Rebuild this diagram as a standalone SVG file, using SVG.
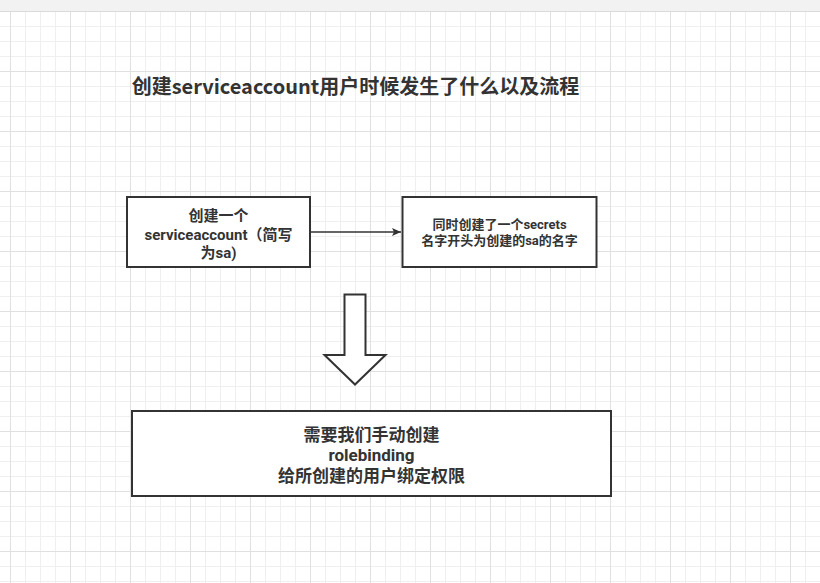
<svg xmlns="http://www.w3.org/2000/svg" width="820" height="583" viewBox="0 0 820 583">
<style>
.t{font-family:Roboto,"Noto Sans CJK SC",sans-serif;fill:#333333;font-weight:bold;text-anchor:middle}
.title{font-family:"Noto Sans CJK SC","Noto Sans",sans-serif}
.box{fill:#ffffff;stroke:#333333;stroke-width:2}
</style>
<defs>
<pattern id="grid" patternUnits="userSpaceOnUse" x="10" y="11" width="60" height="60">
<path d="M15.5 0V60M30.5 0V60M45.5 0V60M0 15.5H60M0 30.5H60M0 45.5H60" stroke="#efefef" stroke-width="1" fill="none"/>
<path d="M0.5 0V60M0 0.5H60" stroke="#e0e0e0" stroke-width="1" fill="none"/>
</pattern>
<marker id="arr" markerWidth="10" markerHeight="10" refX="9" refY="5" orient="auto" markerUnits="userSpaceOnUse">
<path d="M0 1L9 5L0 9L2 5Z" fill="#333333"/>
</marker>
</defs>
<rect width="820" height="583" fill="#ffffff"/>
<rect x="0" y="11" width="820" height="572" fill="url(#grid)"/>
<rect x="0" y="0" width="820" height="11" fill="#f2f2f2"/>
<line x1="0" y1="11.5" x2="820" y2="11.5" stroke="#dadada"/>
<g id="title"><text class="t title" x="355.5" y="94" font-size="20">创建serviceaccount用户时候发生了什么以及流程</text></g>
<g id="connectors">
<line x1="310" y1="232" x2="401" y2="232" stroke="#333333" stroke-width="1.5" marker-end="url(#arr)"/>
</g>
<g id="node-sa">
<rect class="box" x="127" y="197" width="183" height="70"/>
<text class="t" x="218.5" font-size="15"><tspan x="218.5" y="220.5">创建一个</tspan><tspan x="218.5" y="239.5">serviceaccount（简写</tspan><tspan x="218.5" y="257.5">为sa)</tspan></text>
</g>
<g id="node-secrets">
<rect class="box" x="402.5" y="197" width="194" height="70"/>
<text class="t" x="499.5" font-size="13"><tspan x="499.5" y="229">同时创建了一个secrets</tspan><tspan x="499.5" y="245">名字开头为创建的sa的名字</tspan></text>
</g>
<g id="node-arrow">
<path d="M344.5 294.5H365.5V355H385.5L355 384.5L324.5 355H344.5Z" fill="#ffffff" stroke="#333333" stroke-width="2" stroke-linejoin="miter"/>
</g>
<g id="node-rolebinding">
<rect class="box" x="132" y="411" width="479" height="85"/>
<text class="t" x="371.5" font-size="17"><tspan x="371.5" y="440.5">需要我们手动创建</tspan><tspan x="371.5" y="461">rolebinding</tspan><tspan x="371.5" y="482">给所创建的用户绑定权限</tspan></text>
</g>
</svg>
